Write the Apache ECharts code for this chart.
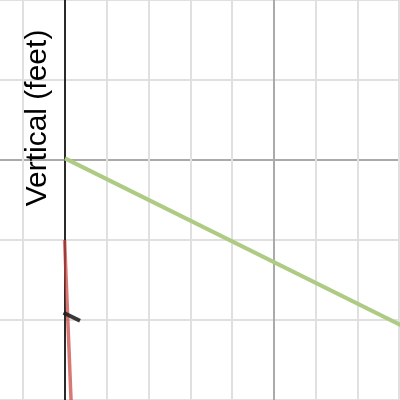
<!DOCTYPE html>
<html>
<head>
<meta charset="utf-8">
<script src="https://cdn.jsdelivr.net/npm/echarts@6/dist/echarts.min.js"></script>
<style>html,body{margin:0;padding:0;background:#fff}#c{width:400px;height:400px}</style>
</head>
<body>
<div id="c"></div>
<script>
// Data (x: horizontal units, y: vertical feet)
const yAxisTitle = 'Vertical (feet)';
const greenLine = [[0, 0.02], [8.1, -2.08]];
const redLine = [[-0.01, -1], [0.16, -3.2]];
const tickMark = [[-0.036, -1.909], [0.359, -2.009]];
const xRange = [-5, 10];
const yRange = [-5, 5];
const minorStep = 1;
const majorStep = 5;

const pxPerX = 41.78, pxPerY = 80, originX = 65, originY = 160;
const chart = echarts.init(document.getElementById('c'), null, {renderer: 'canvas'});
const gridLeft = originX - (0 - xRange[0]) * pxPerX;
const gridTop = originY - (yRange[1] - 0) * pxPerY;
chart.setOption({
  animation: false,
  backgroundColor: '#fff',
  grid: {left: gridLeft, top: gridTop, width: (xRange[1] - xRange[0]) * pxPerX, height: (yRange[1] - yRange[0]) * pxPerY,
         containLabel: false, outerBoundsMode: 'none'},
  xAxis: [
    {type: 'value', min: xRange[0], max: xRange[1], interval: minorStep, position: 'bottom',
     axisLine: {show: false}, axisTick: {show: false}, axisLabel: {show: false},
     splitLine: {show: true, lineStyle: {color: '#e0e0e0', width: 2}}},
    {type: 'value', min: xRange[0], max: xRange[1], interval: majorStep, position: 'top',
     axisLine: {show: false}, axisTick: {show: false}, axisLabel: {show: false},
     splitLine: {show: true, lineStyle: {color: '#aaaaaa', width: 2}}}
  ],
  yAxis: [
    {type: 'value', min: yRange[0], max: yRange[1], interval: minorStep, position: 'left',
     axisLine: {show: true, onZero: true, lineStyle: {color: '#2a2a2a', width: 2}}, axisTick: {show: false}, axisLabel: {show: false},
     splitLine: {show: true, lineStyle: {color: '#e0e0e0', width: 2}}},
    {type: 'value', min: yRange[0], max: yRange[1], interval: majorStep, position: 'right',
     axisLine: {show: false}, axisTick: {show: false}, axisLabel: {show: false},
     splitLine: {show: true, lineStyle: {color: '#aaaaaa', width: 2}}}
  ],
  graphic: [{
    type: 'text', x: 38, y: 118, rotation: Math.PI / 2,
    style: {text: yAxisTitle, font: '30px "Liberation Sans", Arial, sans-serif', fill: '#000', align: 'center', verticalAlign: 'middle'},
    z: 100
  }],
  series: [
    {type: 'line', data: greenLine, showSymbol: false, lineStyle: {color: '#aecb84', width: 4}, z: 3},
    {type: 'line', data: redLine, showSymbol: false, lineStyle: {color: 'rgba(199,68,64,0.72)', width: 3.5}, z: 4},
    {type: 'line', data: tickMark, showSymbol: false, lineStyle: {color: 'rgba(30,30,30,0.88)', width: 4}, z: 5}
  ]
});
</script>
</body>
</html>
